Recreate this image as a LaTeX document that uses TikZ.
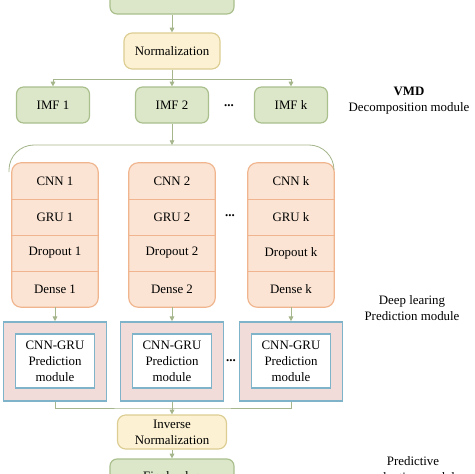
\documentclass[tikz,border=0pt]{standalone}
\usepackage{fontspec}
\setmainfont{Liberation Serif}
\usetikzlibrary{positioning}
\usetikzlibrary{arrows.meta,backgrounds}
\definecolor{greenfill}{HTML}{DCE6C9}
\definecolor{greenline}{HTML}{A9BF8C}
\definecolor{yellowfill}{HTML}{FCF1D2}
\definecolor{yellowline}{HTML}{DCCD92}
\definecolor{peachfill}{HTML}{FBE4D3}
\definecolor{peachline}{HTML}{F0B58E}
\definecolor{pinkfill}{HTML}{F2DCDA}
\definecolor{blueline}{HTML}{7EB3C9}
\definecolor{linkgray}{HTML}{A6B68C}

\begin{document}
\begin{tikzpicture}[x=0.03cm, y=-0.03cm, font=\fontsize{11}{13.6}\selectfont,
	link/.style={draw=linkgray, line width=0.7pt},
	arr/.style={link, -{Triangle[length=4pt,width=4pt]}},
	greenbox/.style={draw=greenline, fill=greenfill, line width=1pt, rounded corners=6pt, minimum width=2.19cm, minimum height=1.08cm},
	yellowbox/.style={draw=yellowline, fill=yellowfill, line width=1pt, rounded corners=7pt, align=center},
	layer/.style={minimum width=2.58cm, minimum height=1.08cm, inner sep=0pt},
	stackframe/.style={draw=peachline, fill=peachfill, line width=1pt, rounded corners=8pt},
	predbox/.style={draw=blueline, fill=pinkfill, line width=1.4pt, minimum width=3.1cm, minimum height=2.37cm},
	cgbox/.style={draw=blueline, fill=white, line width=1.2pt, minimum width=2.37cm, minimum height=1.62cm, align=center, inner sep=1pt},
	gap/.style={inner sep=0pt, font=\fontsize{11}{13.6}\bfseries},
	sidetext/.style={align=center}]
	\useasboundingbox (0,0) rectangle (474,474);

	% input and normalization
	\node[greenbox, minimum width=3.72cm, minimum height=1.2cm] (source) at (172,-6) {};
	\node[yellowbox, minimum width=2.88cm, minimum height=1.08cm] (norm) at (172,51) {Normalization};
	\draw[arr] (source) -- (norm);

	% VMD decomposition
	\node[greenbox] (imf1) at (53,105) {IMF 1};
	\node[greenbox] (imf2) at (172,105) {IMF 2};
	\node[greenbox] (imfk) at (291,105) {IMF k};
	\node[gap] (dotsA) at (229,106) {...};
	\coordinate (splitA) at (172,79);
	\draw[link] (norm) -- (splitA);
	\draw[arr] (splitA) -| (imf1);
	\draw[arr] (splitA) -- (imf2);
	\draw[arr] (splitA) -| (imfk);
	\node[sidetext] (vmd) at (409,101) {\textbf{VMD}\\Decomposition module};

	% bracket over the networks
	\coordinate (brace) at (172,145);
	\draw[link, rounded corners=0.75cm] (9,172) -- (9,145) -- (334,145) -- (334,170);
	\draw[arr] (imf2) -- (brace);

	% CNN-GRU stacks
	\foreach \n/\x in {1/55,2/172,k/291} {
		\node[layer] (cnn\n) at (\x,181) {CNN \n};
		\node[layer] (gru\n) at (\x,217) {GRU \n};
		\node[layer] (drop\n) at (\x,253) {Dropout \n};
		\node[layer] (dense\n) at (\x,289) {Dense \n};
		\begin{scope}[on background layer]
			\draw[stackframe] (cnn\n.north west) rectangle (dense\n.south east);
		\end{scope}
		\draw[peachline, line width=1pt] (cnn\n.south west) -- (cnn\n.south east);
		\draw[peachline, line width=1pt] (gru\n.south west) -- (gru\n.south east);
		\draw[peachline, line width=1pt] (drop\n.south west) -- (drop\n.south east);
		% prediction modules
		\node[predbox] (pred\n) at (\x,361.5) {};
		\node[cgbox] (cg\n) at (\x,361) {CNN-GRU\\Prediction\\module};
		\draw[arr] (dense\n) -- (pred\n);
	}
	\node[gap] (dotsB) at (230,216) {...};
	\node[gap] (dotsC) at (231,361) {...};
	\node[sidetext] (deep) at (412,308) {Deep learing\\Prediction module};

	% output side
	\node[yellowbox, minimum width=3.27cm, minimum height=1.02cm] (inv) at (172,432) {Inverse\\Normalization};
	\coordinate (joinB) at (172,408);
	\draw[link] (pred1) |- (joinB) -| (predk);
	\draw[link] (pred2) -- (joinB);
	\draw[arr] (joinB) -- (inv);
	\node[greenbox, minimum width=3.72cm, minimum height=1.2cm] (final) at (172,479) {};
	\node (finaltext) at (172,476.5) {Final value};
	\draw[arr] (inv) -- (final);
	\node[sidetext] (evalm) at (413,469.5) {Predictive\\evaluation module};
\end{tikzpicture}
\end{document}
